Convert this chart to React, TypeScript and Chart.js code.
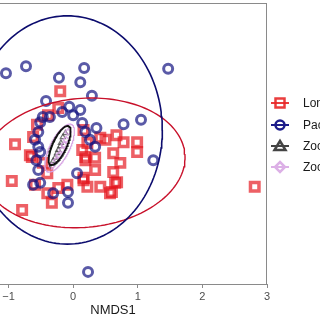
import React, { useEffect, useRef } from "react";
import { Chart, registerables } from "chart.js";

Chart.register(...registerables);

// ---- data (NMDS coordinates) ----
const xTickValues = [-1, 0, 1, 2, 3];
const seriesLabels = ["Longhurst", "Pacific", "Zooplankton", "Zooplankton (net)"];

const longhurstX = [-0.2, -0.23, -0.39, -0.62, -0.9, -0.67, 0.42, 0.5, 0.67, 0.78, 0.99, 0.99, 0.62, 0.22, 0.19, 0.73, 0.62, 0.68, 0.34, 0.34, 0.19, 0.16, 0.22, 0.42, 0.6, -0.95, -0.79, -0.59, -0.4, -0.33, -0.23, -0.09, 0.16, 0.57, 0.65, 2.81, 0.16, 0.14, -0.56, -0.64, -0.47, -0.4];
const longhurstY = [0.91, 0.65, 0.54, 0.2, 0.09, -0.08, 0.19, 0.16, 0.23, 0.12, 0.12, -0.03, -0.05, 0.11, -0.11, -0.2, -0.34, -0.5, -0.12, -0.31, -0.16, -0.43, -0.57, -0.57, -0.65, -0.48, -0.93, -0.54, -0.67, -0.82, -0.59, -0.54, -0.47, -0.67, -0.51, -0.57, 0.31, 0.0, 0.39, -0.11, -0.2, -0.36];

const pacificX = [-1.04, -0.73, -0.22, 0.17, 0.11, 0.29, 1.47, -0.42, 0.78, 1.05, 0.36, 1.24, 0.23, -0.06, 0.11, 0.0, 0.14, 0.19, -0.47, -0.36, -0.51, -0.54, -0.59, -0.54, -0.51, 0.34, -0.62, -0.51, -0.31, -0.08, -0.08, 0.06, -0.57, -0.54, -0.17, 0.26];
const pacificY = [1.19, 1.3, 1.12, 1.27, 1.05, 0.84, 1.26, 0.76, 0.4, 0.47, 0.34, -0.16, -1.89, 0.67, 0.62, 0.54, 0.42, 0.28, 0.51, 0.51, 0.43, 0.28, 0.16, 0.05, -0.03, 0.05, -0.54, -0.51, -0.67, -0.65, -0.82, -0.36, -0.16, -0.31, 0.59, 0.16];

const zooX = [-0.28, -0.23, -0.19, -0.16, -0.25, -0.12, -0.31, -0.2];
const zooY = [-0.12, 0.0, 0.11, 0.2, -0.05, 0.26, -0.17, 0.06];

const zooNetX = [-0.33, -0.26, -0.17, -0.11, -0.08, -0.22, -0.14];
const zooNetY = [-0.25, -0.16, 0.0, 0.16, 0.28, -0.08, 0.08];

// ellipse parameters: centre x, centre y, semi-axis a, semi-axis b, rotation (deg)
const longhurstEllipse = [0.155, -0.2, 1.58, 1.0, 5];
const pacificEllipse = [-0.09, 0.31, 1.47, 1.77, 0];
const zooEllipse = [-0.21, 0.07, 0.33, 0.11, 65];
const zooNetEllipse = [-0.21, 0.03, 0.41, 0.15, 63];

const colors = {
  red: "rgba(228, 20, 28, 0.68)",
  redLine: "#c8102a",
  navy: "rgba(20, 20, 130, 0.7)",
  navyLine: "#0c0c6e",
  zoo: "rgba(60, 60, 60, 0.7)",
  zooNet: "rgba(214, 160, 226, 0.85)",
};

function pts(xs: number[], ys: number[]) {
  return xs.map((x, i) => ({ x, y: ys[i] }));
}

function ellipse(p: number[]) {
  const [cx, cy, a, b, deg] = p;
  const th = (deg * Math.PI) / 180;
  const out: { x: number; y: number }[] = [];
  const n = 160;
  for (let i = 0; i <= n; i++) {
    const t = (i / n) * Math.PI * 2;
    const ex = a * Math.cos(t);
    const ey = b * Math.sin(t);
    out.push({ x: cx + ex * Math.cos(th) - ey * Math.sin(th), y: cy + ex * Math.sin(th) + ey * Math.cos(th) });
  }
  return out;
}

const SHIFT = 41;
const W = 320 + SHIFT;
const H = 320;

const legendItems = [
  { style: "rect", color: "rgba(232,40,40,0.9)" },
  { style: "circle", color: "#1c1c8a" },
  { style: "triangle", color: "#444444" },
  { style: "rectRot", color: "#dcb0e6" },
];

const framePlugin = {
  id: "frame",
  afterDatasetsDraw(chart: any) {
    const { ctx, chartArea } = chart;
    ctx.save();
    ctx.strokeStyle = "#8a8a8a";
    ctx.lineWidth = 1;
    ctx.strokeRect(chartArea.left + 0.5, chartArea.top + 0.5, chartArea.right - chartArea.left - 1, chartArea.bottom - chartArea.top);
    ctx.restore();
  },
  afterDraw(chart: any) {
    const { ctx } = chart;
    const ys = [103, 125, 146, 167];
    const cx = 280 + SHIFT;
    ctx.save();
    legendItems.forEach((it, i) => {
      const y = ys[i];
      ctx.strokeStyle = it.color;
      ctx.lineWidth = 2;
      ctx.beginPath();
      ctx.moveTo(cx - 9, y);
      ctx.lineTo(cx + 9, y);
      ctx.stroke();
      ctx.lineWidth = 2.5;
      ctx.beginPath();
      if (it.style === "rect") {
        ctx.rect(cx - 4.5, y - 4.5, 9, 9);
      } else if (it.style === "circle") {
        ctx.arc(cx, y, 4.5, 0, Math.PI * 2);
      } else if (it.style === "triangle") {
        ctx.moveTo(cx, y - 5);
        ctx.lineTo(cx + 5.5, y + 4);
        ctx.lineTo(cx - 5.5, y + 4);
        ctx.closePath();
      } else {
        ctx.moveTo(cx, y - 5);
        ctx.lineTo(cx + 5, y);
        ctx.lineTo(cx, y + 5);
        ctx.lineTo(cx - 5, y);
        ctx.closePath();
      }
      ctx.stroke();
      ctx.fillStyle = "#1a1a1a";
      ctx.font = "12px 'Liberation Sans', Arial, sans-serif";
      ctx.textBaseline = "middle";
      ctx.fillText(seriesLabels[i], 303 + SHIFT, y + 0.5);
    });
    ctx.restore();
  },
};

export default function App() {
  const ref = useRef<HTMLCanvasElement>(null);
  useEffect(() => {
    if (!ref.current) return;
    const lineDs = (label: string, data: any, color: string, width: number, order: number) => ({
      type: "scatter" as const,
      label,
      data,
      showLine: true,
      borderColor: color,
      borderWidth: width,
      pointRadius: 0,
      fill: false,
      tension: 0,
      order,
    });
    const chart = new Chart(ref.current, {
      type: "scatter",
      data: {
        datasets: [
          lineDs("Pacific ellipse", ellipse(pacificEllipse), colors.navyLine, 1.6, 0),
          lineDs("Longhurst ellipse", ellipse(longhurstEllipse), colors.redLine, 1.4, 1),
          lineDs("Zoo ellipse", ellipse(zooEllipse), "#111111", 1.8, 2),
          lineDs("Zoo net ellipse", ellipse(zooNetEllipse), "#d8a4e4", 1.2, 3),
          {
            label: seriesLabels[3],
            data: pts(zooNetX, zooNetY),
            pointStyle: "rectRot",
            pointRadius: 3,
            borderWidth: 1.5,
            borderColor: colors.zooNet,
            backgroundColor: "rgba(0,0,0,0)",
            order: 4,
          },
          {
            label: seriesLabels[2],
            data: pts(zooX, zooY),
            pointStyle: "triangle",
            pointRadius: 3,
            borderWidth: 1.2,
            borderColor: colors.zoo,
            backgroundColor: "rgba(0,0,0,0)",
            order: 5,
          },
          {
            label: seriesLabels[1],
            data: pts(pacificX, pacificY),
            pointStyle: "circle",
            pointRadius: 4.5,
            borderWidth: 3,
            borderColor: colors.navy,
            backgroundColor: "rgba(0,0,0,0)",
            order: 6,
          },
          {
            label: seriesLabels[0],
            data: pts(longhurstX, longhurstY),
            pointStyle: "rect",
            pointRadius: 6,
            borderWidth: 3.5,
            borderColor: colors.red,
            backgroundColor: "rgba(0,0,0,0)",
            order: 7,
          },
        ],
      },
      options: {
        animation: false,
        responsive: false,
        devicePixelRatio: 1,
        layout: { autoPadding: false, padding: { left: 0, top: 3, right: W - (267 + SHIFT), bottom: 0 } },
        plugins: { legend: { display: false }, tooltip: { enabled: false } },
        scales: {
          x: {
            type: "linear",
            min: -1.767,
            max: 3.0,
            afterBuildTicks: (scale: any) => {
              scale.ticks = xTickValues.map((v) => ({ value: v }));
            },
            afterFit: (scale: any) => {
              scale.height = 36;
            },
            grid: { display: true, drawOnChartArea: false, tickLength: 4, color: "#8a8a8a" },
            border: { display: true, color: "#8a8a8a" },
            ticks: {
              color: "#4d4d4d",
              font: { size: 11, family: "'Liberation Sans', Arial, sans-serif" },
              padding: 2,
              callback: (v: any) => (Number(v) < 0 ? "\u2212" + Math.abs(Number(v)) : String(v)),
            },
            title: {
              display: true,
              text: "NMDS1",
              color: "#1a1a1a",
              font: { size: 13, family: "'Liberation Sans', Arial, sans-serif" },
              padding: { top: 0, bottom: 2 },
            },
          },
          y: {
            type: "linear",
            display: false,
            min: -2.078,
            max: 2.279,
          },
        },
      },
      plugins: [framePlugin],
    });
    return () => chart.destroy();
  }, []);
  return (
    <div style={{ position: "absolute", left: 0, top: 0, width: 320, height: 320, overflow: "hidden", background: "#fff" }}>
      <canvas ref={ref} width={W} height={H} style={{ position: "absolute", left: -SHIFT, top: 0, width: W, height: H }} />
    </div>
  );
}
